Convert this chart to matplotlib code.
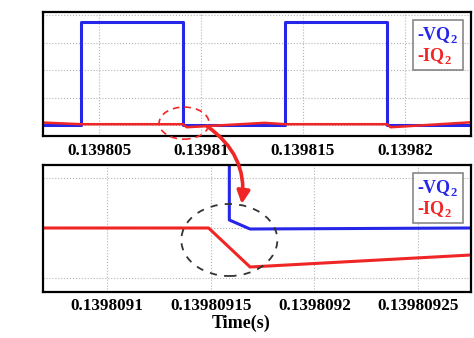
import matplotlib
matplotlib.use("Agg")
import matplotlib.pyplot as plt
from matplotlib.patches import Ellipse, ConnectionPatch
from matplotlib.lines import Line2D

# upper panel: two switching periods
t_top_vq2 = [0.13980225, 0.13980412, 0.13980412, 0.13980912, 0.13980912,
             0.13981412, 0.13981412, 0.13981912, 0.13981912, 0.13982324]
vq2_top = [0.0, 0.0, 3.77, 3.77, 0.0, 0.0, 3.77, 3.77, 0.0, 0.0]
t_top_iq2 = [0.13980225, 0.13980412, 0.13980912, 0.13980930, 0.13981312,
             0.13981412, 0.13981912, 0.13981930, 0.13982324]
iq2_top = [0.09, 0.03, 0.03, -0.08, 0.08, 0.03, 0.03, -0.08, 0.10]
top_ticks = [0.139805, 0.13981, 0.139815, 0.13982]
top_labels = ["0.139805", "0.13981", "0.139815", "0.13982"]

# lower panel: zoom on the turn-off edge
t_bot_vq2 = [0.139809159, 0.139809159, 0.139809169, 0.13980927555]
vq2_bot = [2.6, 1.16, 0.98, 1.0]
t_bot_iq2 = [0.13980906914, 0.139809149, 0.139809169, 0.13980927555]
iq2_bot = [1.0, 1.0, 0.22, 0.46]
bot_ticks = [0.1398091, 0.13980915, 0.1398092, 0.13980925]
bot_labels = ["0.1398091", "0.13980915", "0.1398092", "0.13980925"]

BLUE = "#2626e8"
RED = "#f02626"
serif = "Liberation Serif"

plt.rcParams["mathtext.fontset"] = "custom"
plt.rcParams["mathtext.rm"] = "Liberation Serif:bold"
plt.rcParams["mathtext.bf"] = "Liberation Serif:bold"

fig = plt.figure(figsize=(4.74, 3.38), dpi=100)
ax1 = fig.add_axes([43 / 474, 0.5976, 428 / 474, 124 / 338])
ax2 = fig.add_axes([43 / 474, 46 / 338, 428 / 474, 127 / 338])


def style(ax, ticks, labels, yt, pad):
    ax.set_xticks(ticks)
    ax.set_xticklabels(labels, fontfamily=serif, fontweight="bold", fontsize=12.3)
    ax.set_yticks(yt)
    ax.set_yticklabels([])
    ax.tick_params(length=0, pad=pad)
    ax.grid(True, ls=":", color="#b4b4b4", lw=0.8)
    for s in ax.spines.values():
        s.set_linewidth(1.6)
        s.set_color("black")
    handles = [Line2D([], [], ls="none"), Line2D([], [], ls="none")]
    leg = ax.legend(handles, [r"-VQ$_\mathregular{2}$", r"-IQ$_\mathregular{2}$"],
                    loc="upper right", handlelength=0, handletextpad=0,
                    labelcolor=[BLUE, RED], fancybox=False, borderpad=0.25,
                    labelspacing=0.05, borderaxespad=0.45,
                    prop={"family": serif, "weight": "bold", "size": 13})
    leg.get_frame().set_edgecolor("#6a6a6a")
    leg.get_frame().set_linewidth(1.2)


ax1.plot(t_top_vq2, vq2_top, color=BLUE, lw=2.2)
ax1.plot(t_top_iq2, iq2_top, color=RED, lw=1.8)
ax1.set_xlim(0.13980225, 0.13982324)
ax1.set_ylim(-0.40, 4.12)
style(ax1, top_ticks, top_labels, [0, 1, 2, 3, 4], 5)

ax2.plot(t_bot_vq2, vq2_bot, color=BLUE, lw=2.2)
ax2.plot(t_bot_iq2, iq2_bot, color=RED, lw=2.2)
ax2.set_xlim(0.13980906914, 0.13980927555)
ax2.set_ylim(-0.28, 2.26)
style(ax2, bot_ticks, bot_labels, [0, 1, 2], 4)

# highlight circles
ax1.add_patch(Ellipse((0.13980917, 0.07), 2.45e-6, 1.17, fill=False,
                      ec=RED, lw=1.2, ls=(0, (4, 3)), clip_on=False, zorder=5))
ax2.add_patch(Ellipse((0.139809159, 0.76), 4.63e-8, 1.44, fill=False,
                      ec="#333333", lw=1.3, ls=(0, (4, 4)), clip_on=False, zorder=5))

arrow = ConnectionPatch(xyA=(0.13981029, -0.04), coordsA=ax1.transData,
                        xyB=(0.139809165, 1.48), coordsB=ax2.transData,
                        arrowstyle="-|>", connectionstyle="arc3,rad=-0.3",
                        color=RED, lw=2.6, mutation_scale=19, zorder=10)
fig.add_artist(arrow)

fig.text(241 / 474, 15 / 338, "Time(s)", ha="center", va="center",
         fontfamily=serif, fontweight="bold", fontsize=13)

fig.savefig("out.png", dpi=100)
